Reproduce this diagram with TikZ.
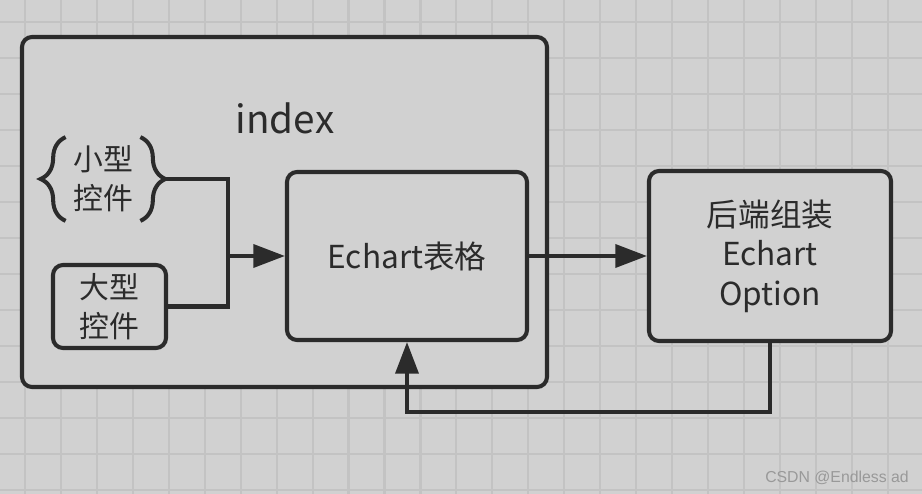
\documentclass[tikz,border=0pt]{standalone}
\usepackage{fontspec}
\setmainfont{Noto Sans CJK SC}
\newfontfamily\markfont{Liberation Sans}
\usetikzlibrary{arrows.meta,decorations.pathreplacing}
\definecolor{paper}{RGB}{209,209,209}
\definecolor{gridgray}{RGB}{195,195,195}
\definecolor{ink}{RGB}{43,43,43}

\begin{document}
\begin{tikzpicture}[box/.style={rectangle, rounded corners=0.2cm, draw=ink, fill=paper, line width=2.3pt, inner sep=0pt, align=center, text=ink},
        gridline/.style={draw=gridgray, line width=1.2pt},
        link/.style={draw=ink, line width=2.3pt},
        curly/.style={draw=ink, line width=2.3pt, decorate, decoration={brace, amplitude=0.5cm, aspect=0.5}},
        >={Triangle[length=18pt, width=13pt]}]
        \useasboundingbox (0,0) rectangle (18.44,-9.88);
        \fill[paper] (0,0) rectangle (18.44,-9.88);
        % grid
        \foreach \i in {0,...,24}
            \draw[gridline] (0.5+0.719*\i, 0) -- ++(0,-9.88);
        \foreach \j in {0,...,13}
            \draw[gridline] (0, -0.44-0.72*\j) -- ++(18.44,0);
        \node [box, minimum width=10.5cm, minimum height=7cm] at (5.69, -4.24) (indexbox) {};
        \node [text=ink, font=\fontsize{22}{26}\selectfont] at (5.7, -2.36) (indexlabel) {index};
        \node [align=center, text=ink, inner sep=0pt, minimum width=1.48cm, minimum height=1.66cm,
                font=\fontsize{17}{22.4}\selectfont] at (2.06, -3.58) (small) {小型\\控件};
        \node [box, minimum width=2.26cm, minimum height=1.66cm,
                font=\fontsize{17}{22.4}\selectfont] at (2.19, -6.13) (large) {大型\\控件};
        \node [box, minimum width=4.8cm, minimum height=3.36cm,
                font=\fontsize{18}{22.4}\selectfont] at (8.14, -5.12) (echart) {Echart表格};
        \node [box, minimum width=4.84cm, minimum height=3.4cm,
                font=\fontsize{18}{22.4}\selectfont] at (15.4, -5.12) (backend) {后端组装\\Echart\\Option};
        \draw[curly] (small.south west) -- (small.north west);
        \draw[curly] (small.north east) -- (small.south east);
        \coordinate (smalltip) at ([xshift=0.5cm]small.east);
        \coordinate (join) at (4.56, -5.12);
        \draw[link] (smalltip) -| (join);
        \draw[link] (large.east) -| (join);
        \draw[link, ->] (join) -- (echart.west);
        \draw[link, ->] (echart.east) -- (backend.west);
        \draw[link, ->] (backend.south) |- (8.14, -8.24) -- (echart.south);
        \node [text=black!40, font=\markfont\fontsize{9}{11}\selectfont] at (16.74, -9.56) (mark) {CSDN @Endless ad};
\end{tikzpicture}
\end{document}
